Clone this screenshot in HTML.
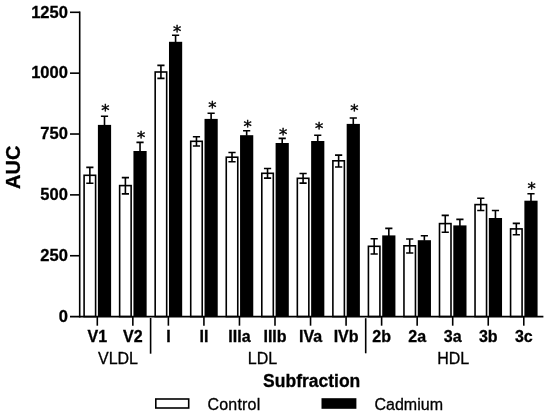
<!DOCTYPE html>
<html><head><meta charset="utf-8"><style>html,body{margin:0;padding:0;background:#fff;width:550px;height:415px;overflow:hidden}svg{display:block}</style></head><body>
<svg width="550" height="415" viewBox="0 0 550 415">
<style>text{stroke:#000;stroke-width:0.3px}.ast text{stroke-width:0.45px}</style>
<rect width="550" height="415" fill="#fff"/>
<g stroke="#000" stroke-width="1.60" fill="none">
<rect x="84.10" y="175.30" width="11.50" height="141.30" fill="#fff"/>
<rect x="97.90" y="124.90" width="13.20" height="191.70" fill="#000" stroke="none"/>
<path d="M89.85 167.40V183.30M86.25 167.40H93.45M86.25 183.30H93.45"/>
<path d="M104.50 116.30V125.40M100.90 116.30H108.10"/>
<rect x="119.64" y="185.60" width="11.50" height="131.00" fill="#fff"/>
<rect x="133.44" y="151.00" width="13.20" height="165.60" fill="#000" stroke="none"/>
<path d="M125.39 177.60V193.90M121.79 177.60H128.99M121.79 193.90H128.99"/>
<path d="M140.04 142.40V151.50M136.44 142.40H143.64"/>
<rect x="155.18" y="72.00" width="11.50" height="244.60" fill="#fff"/>
<rect x="168.98" y="41.80" width="13.20" height="274.80" fill="#000" stroke="none"/>
<path d="M160.93 65.40V78.40M157.33 65.40H164.53M157.33 78.40H164.53"/>
<path d="M175.58 35.30V42.30M171.98 35.30H179.18"/>
<rect x="190.72" y="141.30" width="11.50" height="175.30" fill="#fff"/>
<rect x="204.52" y="118.90" width="13.20" height="197.70" fill="#000" stroke="none"/>
<path d="M196.47 136.70V146.00M192.87 136.70H200.07M192.87 146.00H200.07"/>
<path d="M211.12 113.20V119.40M207.52 113.20H214.72"/>
<rect x="226.26" y="157.20" width="11.50" height="159.40" fill="#fff"/>
<rect x="240.06" y="135.20" width="13.20" height="181.40" fill="#000" stroke="none"/>
<path d="M232.01 152.50V161.80M228.41 152.50H235.61M228.41 161.80H235.61"/>
<path d="M246.66 130.70V135.70M243.06 130.70H250.26"/>
<rect x="261.80" y="173.30" width="11.50" height="143.30" fill="#fff"/>
<rect x="275.60" y="143.00" width="13.20" height="173.60" fill="#000" stroke="none"/>
<path d="M267.55 168.50V178.10M263.95 168.50H271.15M263.95 178.10H271.15"/>
<path d="M282.20 138.40V143.50M278.60 138.40H285.80"/>
<rect x="297.34" y="178.30" width="11.50" height="138.30" fill="#fff"/>
<rect x="311.14" y="141.00" width="13.20" height="175.60" fill="#000" stroke="none"/>
<path d="M303.09 173.50V183.10M299.49 173.50H306.69M299.49 183.10H306.69"/>
<path d="M317.74 135.30V141.50M314.14 135.30H321.34"/>
<rect x="332.88" y="160.80" width="11.50" height="155.80" fill="#fff"/>
<rect x="346.68" y="123.90" width="13.20" height="192.70" fill="#000" stroke="none"/>
<path d="M338.63 155.10V167.00M335.03 155.10H342.23M335.03 167.00H342.23"/>
<path d="M353.28 118.00V124.40M349.68 118.00H356.88"/>
<rect x="368.42" y="246.30" width="11.50" height="70.30" fill="#fff"/>
<rect x="382.22" y="235.40" width="13.20" height="81.20" fill="#000" stroke="none"/>
<path d="M374.17 238.80V254.00M370.57 238.80H377.77M370.57 254.00H377.77"/>
<path d="M388.82 228.40V235.90M385.22 228.40H392.42"/>
<rect x="403.96" y="245.80" width="11.50" height="70.80" fill="#fff"/>
<rect x="417.76" y="240.20" width="13.20" height="76.40" fill="#000" stroke="none"/>
<path d="M409.71 239.00V253.00M406.11 239.00H413.31M406.11 253.00H413.31"/>
<path d="M424.36 235.80V240.70M420.76 235.80H427.96"/>
<rect x="439.50" y="223.60" width="11.50" height="93.00" fill="#fff"/>
<rect x="453.30" y="225.40" width="13.20" height="91.20" fill="#000" stroke="none"/>
<path d="M445.25 215.40V232.30M441.65 215.40H448.85M441.65 232.30H448.85"/>
<path d="M459.90 219.40V225.90M456.30 219.40H463.50"/>
<rect x="475.04" y="204.60" width="11.50" height="112.00" fill="#fff"/>
<rect x="488.84" y="218.00" width="13.20" height="98.60" fill="#000" stroke="none"/>
<path d="M480.79 198.20V210.50M477.19 198.20H484.39M477.19 210.50H484.39"/>
<path d="M495.44 210.50V218.50M491.84 210.50H499.04"/>
<rect x="510.58" y="228.90" width="11.50" height="87.70" fill="#fff"/>
<rect x="524.38" y="200.70" width="13.20" height="115.90" fill="#000" stroke="none"/>
<path d="M516.33 223.40V234.70M512.73 223.40H519.93M512.73 234.70H519.93"/>
<path d="M530.98 193.80V201.20M527.38 193.80H534.58"/>
</g>
<g stroke="#000" stroke-width="1.60" fill="none">
<path d="M79.7 11.5V317.40"/>
<path d="M70 316.60H543.4"/>
<path d="M70 255.74H79.7"/>
<path d="M70 194.88H79.7"/>
<path d="M70 134.02H79.7"/>
<path d="M70 73.16H79.7"/>
<path d="M70 12.30H79.7"/>
<path d="M97.30 316.60V325.7"/>
<path d="M132.84 316.60V325.7"/>
<path d="M168.38 316.60V325.7"/>
<path d="M203.92 316.60V325.7"/>
<path d="M239.46 316.60V325.7"/>
<path d="M275.00 316.60V325.7"/>
<path d="M310.54 316.60V325.7"/>
<path d="M346.08 316.60V325.7"/>
<path d="M381.62 316.60V325.7"/>
<path d="M417.16 316.60V325.7"/>
<path d="M452.70 316.60V325.7"/>
<path d="M488.24 316.60V325.7"/>
<path d="M523.78 316.60V325.7"/>
<path d="M150.6 318V353.7"/>
<path d="M365.7 318.2V353.3"/>
</g>
<g font-family="Liberation Sans, Arial, sans-serif" font-weight="bold" font-size="16.5" text-anchor="end" fill="#000">
<text x="67.9" y="321.80">0</text>
<text x="67.9" y="260.94">250</text>
<text x="67.9" y="200.08">500</text>
<text x="67.9" y="139.22">750</text>
<text x="67.9" y="78.36">1000</text>
<text x="67.9" y="17.50">1250</text>
</g>
<g font-family="Liberation Sans, Arial, sans-serif" font-weight="bold" font-size="16" text-anchor="middle" fill="#000">
<text x="97.30" y="341.7">V1</text>
<text x="132.84" y="341.7">V2</text>
<text x="168.38" y="341.7">I</text>
<text x="203.92" y="341.7">II</text>
<text x="239.46" y="341.7">IIIa</text>
<text x="275.00" y="341.7">IIIb</text>
<text x="310.54" y="341.7">IVa</text>
<text x="346.08" y="341.7">IVb</text>
<text x="381.62" y="341.7">2b</text>
<text x="417.16" y="341.7">2a</text>
<text x="452.70" y="341.7">3a</text>
<text x="488.24" y="341.7">3b</text>
<text x="523.78" y="341.7">3c</text>
</g>
<g font-family="Liberation Sans, Arial, sans-serif" font-size="16" text-anchor="middle" fill="#000">
<text x="118" y="363.7">VLDL</text>
<text x="262.5" y="363.7">LDL</text>
<text x="453.2" y="363.7">HDL</text>
</g>
<text x="311.7" y="386.5" font-family="Liberation Sans, Arial, sans-serif" font-weight="bold" font-size="17.5" text-anchor="middle">Subfraction</text>
<text transform="translate(19.9 167.3) rotate(-90)" font-family="Liberation Sans, Arial, sans-serif" font-weight="bold" font-size="20" text-anchor="middle">AUC</text>
<g class="ast" font-family="DejaVu Sans, sans-serif" font-size="16.5" text-anchor="middle" fill="#000">
<text x="105.40" y="116.00">*</text>
<text x="141.00" y="142.90">*</text>
<text x="177.00" y="36.50">*</text>
<text x="212.30" y="112.90">*</text>
<text x="247.60" y="131.50">*</text>
<text x="283.10" y="139.60">*</text>
<text x="319.00" y="134.30">*</text>
<text x="354.30" y="116.10">*</text>
<text x="531.50" y="194.00">*</text>
</g>
<rect x="155.80" y="399.00" width="32.90" height="9.00" fill="#fff" stroke="#000" stroke-width="1.60"/>
<rect x="321.5" y="398.2" width="34.9" height="10.6" fill="#000"/>
<g font-family="Liberation Sans, Arial, sans-serif" font-size="16" fill="#000">
<text x="207.5" y="409.9" letter-spacing="0.2">Control</text>
<text x="374.5" y="409.9">Cadmium</text>
</g>
</svg></body></html>
